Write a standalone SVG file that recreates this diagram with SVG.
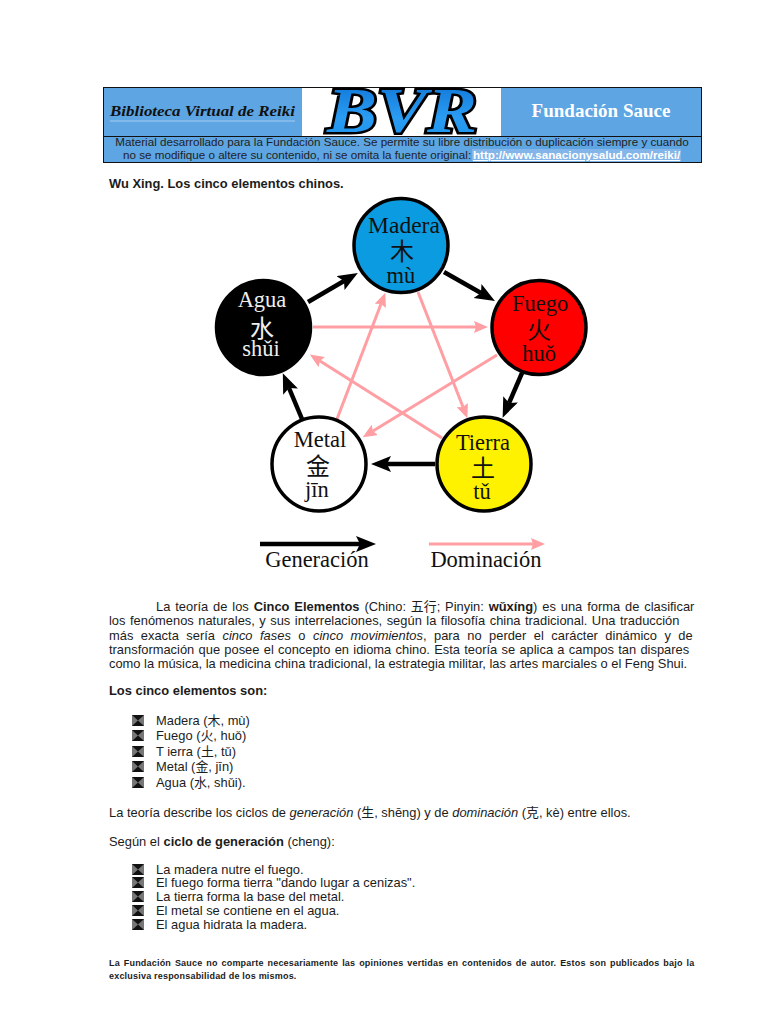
<svg xmlns="http://www.w3.org/2000/svg" width="768" height="1024" viewBox="0 0 768 1024">
<style>
text{font-family:"Liberation Sans","Noto Sans CJK SC",sans-serif;font-size:12.900px;fill:#1c1c1c}
.b{font-weight:700}
.i{font-style:italic}
.s{font-family:"Liberation Serif","Noto Sans CJK SC",serif;font-size:22.500px;text-anchor:middle;fill:#111}
.c{font-family:"Noto Sans CJK SC",sans-serif;font-size:24px;text-anchor:middle;fill:#111}
.w{fill:#eee}
.hd{fill:#5da5e3;stroke:#111;stroke-width:1}
.node{stroke:#000;stroke-width:3.500}
.gen{stroke:#000;stroke-width:4.500;fill:none;marker-end:url(#ah)}
.dom{stroke:#ff9ea3;stroke-width:3;fill:none;marker-end:url(#ap)}
.f{font-size:9px;font-weight:700;letter-spacing:.2px}
.h{font-size:11.650px;text-anchor:middle;fill:#222}
</style>
<defs>
<marker id="ah" markerUnits="userSpaceOnUse" markerWidth="24" markerHeight="20" refX="4" refY="8" orient="auto"><path d="M0 0L20 8L0 16L4 8Z" fill="#000"/></marker>
<marker id="ap" markerUnits="userSpaceOnUse" markerWidth="18" markerHeight="14" refX="2" refY="6" orient="auto"><path d="M0 0L14 6L0 12L2 6Z" fill="#ff9ea3"/></marker>
<g id="bul"><rect x="0" y="0" width="12" height="11" fill="#777"/><path d="M0 0H12L6 5.500ZM0 11H12L6 5.500Z" fill="#111"/></g>
<linearGradient id="lg" x1="0" y1="0" x2="0" y2="1"><stop offset="0" stop-color="#0b6fd2"/><stop offset=".6" stop-color="#2a9cf2"/><stop offset="1" stop-color="#1b8fe9"/></linearGradient>
</defs>
<rect width="768" height="1024" fill="#fff"/>

<g id="header">
<rect class="hd" x="103.500" y="87.500" width="598" height="49"/>
<rect x="302" y="88" width="199" height="48" fill="#fff"/>
<rect class="hd" x="103.500" y="136.500" width="598" height="26"/>
<text x="110" y="116" textLength="185" lengthAdjust="spacingAndGlyphs" style="font-family:'Liberation Serif',serif;font-size:15.500px;font-weight:700;font-style:italic;fill:#111">Biblioteca Virtual de Reiki</text>
<path d="M110 121H295" stroke="#a9cdef" stroke-width="1"/>
<text x="327" y="132" textLength="150" lengthAdjust="spacingAndGlyphs" style="font-family:'Liberation Serif',serif;font-size:64px;font-weight:700;font-style:italic;fill:url(#lg);stroke:#000;stroke-width:5;paint-order:stroke">BVR</text>
<text x="601" y="117" style="font-family:'Liberation Serif',serif;font-size:19px;font-weight:700;text-anchor:middle;fill:#fff">Fundación Sauce</text>
<text class="h" x="402" y="146">Material desarrollado para la Fundación Sauce. Se permite su libre distribución o duplicación siempre y cuando</text>
<rect x="472" y="149" width="209" height="12" fill="#84b5e8"/>
<text x="123" y="159" style="font-size:11.650px;fill:#222">no se modifique o altere su contenido, ni se omita la fuente original:</text>
<text x="473" y="159" class="b" style="font-size:11.650px;fill:#fff;text-decoration:underline">http://www.sanacionysalud.com/reiki/</text>
</g>

<text class="b" x="109" y="188">Wu Xing. Los cinco elementos chinos.</text>

<g id="connectors">
<path class="dom" d="M313 327H476"/>
<path class="dom" d="M497 355L373 431"/>
<path class="dom" d="M337 419L381 304"/>
<path class="dom" d="M418 292L463 407"/>
<path class="dom" d="M442 438L320 361"/>
<path class="gen" d="M308 302L344 281"/>
<path class="gen" d="M444 272L481 293"/>
<path class="gen" d="M522 373L509 403"/>
<path class="gen" d="M435 464H387"/>
<path class="gen" d="M302 419L289 388"/>
<path class="gen" d="M260 544H360"/>
<path class="dom" d="M429 544H533"/>
</g>

<g id="madera"><circle class="node" cx="401" cy="245.500" r="47" fill="#0a9be0"/><text class="s" x="404" y="233" style="font-size:23.500px">Madera</text><text class="c" x="402" y="260">木</text><text class="s" x="401" y="283">mù</text></g>
<g id="fuego"><circle class="node" cx="539" cy="327.500" r="47" fill="#fe0000"/><text class="s" x="540" y="311">Fuego</text><text class="c" x="539" y="339">火</text><text class="s" x="539" y="361">huǒ</text></g>
<g id="tierra"><circle class="node" cx="484" cy="464" r="47" fill="#fff200"/><text class="s" x="483" y="450">Tierra</text><text class="c" x="483" y="477">土</text><text class="s" x="482" y="499">tǔ</text></g>
<g id="metal"><circle class="node" cx="319" cy="464" r="47" fill="#fff"/><text class="s" x="320" y="447">Metal</text><text class="c" x="318" y="475">金</text><text class="s" x="317" y="497">jīn</text></g>
<g id="agua"><circle class="node" cx="263.500" cy="327.500" r="47" fill="#000"/><text class="s w" x="262" y="307">Agua</text><text class="c w" x="262" y="337">水</text><text class="s w" x="261" y="356">shǔi</text></g>

<g id="legend"><text class="s" x="317" y="567">Generación</text><text class="s" x="486" y="567">Dominación</text></g>

<g id="body">
<text x="156" y="611" word-spacing="1.300">La teoría de los <tspan class="b">Cinco Elementos</tspan> (Chino: 五行; Pinyin: <tspan class="b">wǔxíng</tspan>) es una forma de clasificar</text>
<text x="109" y="625" word-spacing=".9">los fenómenos naturales, y sus interrelaciones, según la filosofía china tradicional. Una traducción</text>
<text x="109" y="640" word-spacing="3.900">más exacta sería <tspan class="i">cinco fases</tspan> o <tspan class="i">cinco movimientos</tspan>, para no perder el carácter dinámico y de</text>
<text x="109" y="654" word-spacing=".7">transformación que posee el concepto en idioma chino. Esta teoría se aplica a campos tan dispares</text>
<text x="109" y="668">como la música, la medicina china tradicional, la estrategia militar, las artes marciales o el Feng Shui.</text>
<text class="b" x="109" y="695">Los cinco elementos son:</text>
<text x="156" y="725">Madera (木, mù)</text>
<text x="156" y="740">Fuego (火, huǒ)</text>
<text x="156" y="756">T ierra (土, tǔ)</text>
<text x="156" y="771">Metal (金, jīn)</text>
<text x="156" y="787">Agua (水, shǔi).</text>
<text x="109" y="817">La teoría describe los ciclos de <tspan class="i">generación</tspan> (生, shēng) y de <tspan class="i">dominación</tspan> (克, kè) entre ellos.</text>
<text x="109" y="846">Según el <tspan class="b">ciclo de generación</tspan> (cheng):</text>
<text x="156" y="874">La madera nutre el fuego.</text>
<text x="156" y="887">El fuego forma tierra "dando lugar a cenizas".</text>
<text x="156" y="901">La tierra forma la base del metal.</text>
<text x="156" y="915">El metal se contiene en el agua.</text>
<text x="156" y="929">El agua hidrata la madera.</text>
<text class="f" x="109" y="966" word-spacing="1.150">La Fundación Sauce no comparte necesariamente las opiniones vertidas en contenidos de autor. Estos son publicados bajo la</text>
<text class="f" x="109" y="979">exclusiva responsabilidad de los mismos.</text>
</g>

<g id="bullets">
<use href="#bul" x="132" y="715"/><use href="#bul" x="132" y="730"/><use href="#bul" x="132" y="746"/><use href="#bul" x="132" y="761"/><use href="#bul" x="132" y="777"/>
<use href="#bul" x="132" y="864"/><use href="#bul" x="132" y="877"/><use href="#bul" x="132" y="891"/><use href="#bul" x="132" y="905"/><use href="#bul" x="132" y="919"/>
</g>
</svg>
